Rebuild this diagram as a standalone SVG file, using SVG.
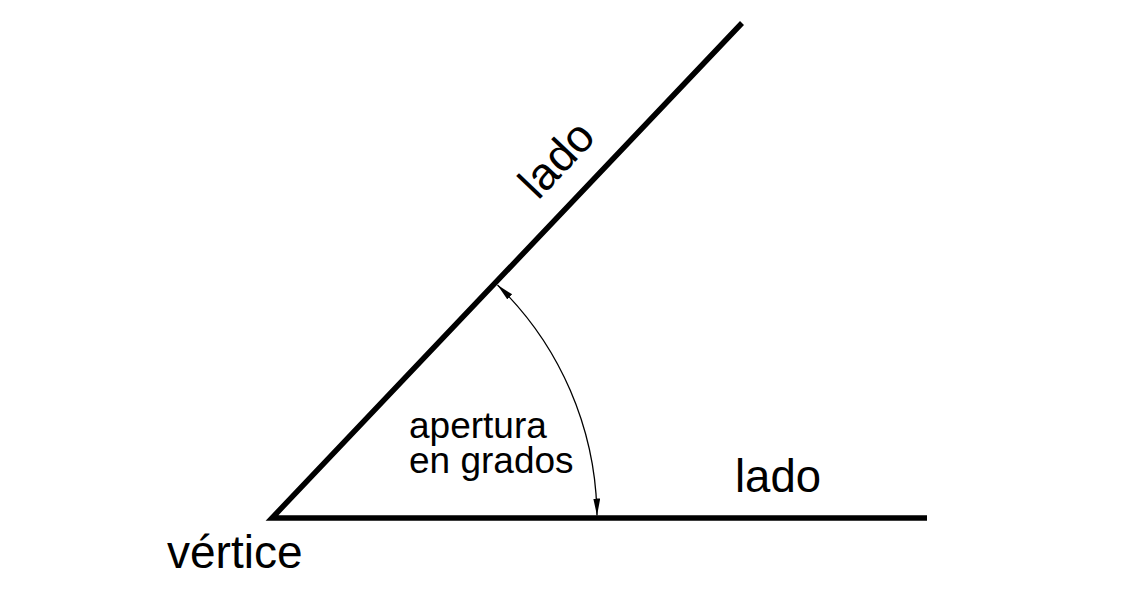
<svg xmlns="http://www.w3.org/2000/svg" width="1123" height="590" viewBox="0 0 1123 590">
<style>
.side{fill:none;stroke:#000;stroke-width:5.5;stroke-linejoin:miter;stroke-linecap:butt}
.arc{fill:none;stroke:#000;stroke-width:1.3}
.lbl{font-family:"Liberation Sans",Arial,sans-serif;fill:#000}
</style>
<defs>
<marker id="ah" markerUnits="userSpaceOnUse" markerWidth="18" markerHeight="8" refX="17" refY="3.5" orient="auto-start-reverse">
<path d="M0,0 L17,3.5 L0,7 z" fill="#000"/>
</marker>
</defs>
<rect width="1123" height="590" fill="#fff"/>
<g id="angle">
<path class="side" d="M742,23 L272,518 L927,518"/>
</g>
<g id="connectors">
<path class="arc" d="M497.5,285 A327,327 0 0 1 597,515.5" marker-start="url(#ah)" marker-end="url(#ah)"/>
</g>
<g id="labels">
<text class="lbl" font-size="45.5" transform="translate(538,201) rotate(-46.4)">lado</text>
<text class="lbl" font-size="45.5" x="735" y="492">lado</text>
<text class="lbl" font-size="46" x="167" y="568">vértice</text>
<text class="lbl" font-size="37" x="409" y="438">apertura</text>
<text class="lbl" font-size="37" x="409" y="473">en grados</text>
</g>
</svg>
